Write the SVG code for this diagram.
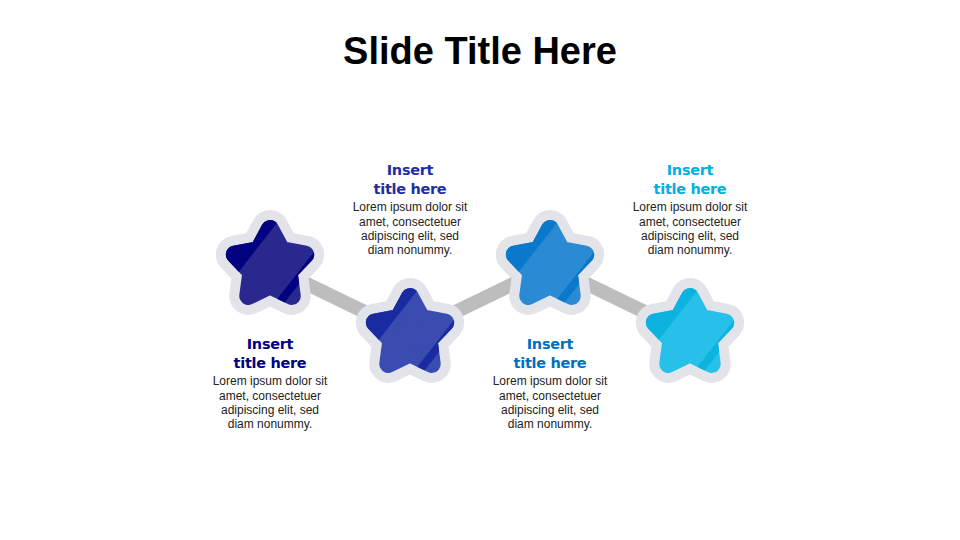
<svg xmlns="http://www.w3.org/2000/svg" xmlns:xlink="http://www.w3.org/1999/xlink" width="960" height="540" viewBox="0 0 960 540">
<style>
.halo{fill:#e3e4e9;stroke:#e3e4e9;stroke-width:38;stroke-linejoin:round}
.body{stroke-width:18;stroke-linejoin:round}
.ttl{font-family:"DejaVu Sans",Verdana,sans-serif;font-weight:bold;font-size:14.5px;text-anchor:middle;letter-spacing:-0.3px}
.txt{font-family:"Liberation Sans",Arial,sans-serif;font-size:12px;fill:#222;text-anchor:middle}
.conn{stroke:#bdbdbd;stroke-width:14;stroke-linecap:butt}
</style>
<defs>
<polygon id="sp" points="0,-37 11.46,-15.78 35.19,-11.43 18.55,6.03 21.75,29.93 0,19.5 -21.75,29.93 -18.55,6.03 -35.19,-11.43 -11.46,-15.78"/>
<mask id="sm" maskUnits="userSpaceOnUse" x="-70" y="-70" width="140" height="140">
<use xlink:href="#sp" fill="#fff" stroke="#fff" stroke-width="18" stroke-linejoin="round"/>
</mask>
<g id="stripes"><g transform="rotate(38)"><rect x="-90" y="-90" width="69" height="180"/><rect x="26" y="-90" width="8" height="180"/></g></g>
</defs>
<rect width="960" height="540" fill="#fff"/>
<text x="480" y="64" font-family="Liberation Sans,Arial,sans-serif" font-weight="bold" font-size="38" text-anchor="middle" fill="#000">Slide Title Here</text>
<g id="connectors">
<line class="conn" x1="270" y1="266" x2="410" y2="334"/>
<line class="conn" x1="410" y1="334" x2="550" y2="266"/>
<line class="conn" x1="550" y1="266" x2="690" y2="334"/>
</g>
<g id="star1" transform="translate(270,266)">
<use xlink:href="#sp" class="halo"/>
<use xlink:href="#sp" class="body" fill="#28288f" stroke="#28288f"/>
<g mask="url(#sm)"><use xlink:href="#stripes" fill="#020281"/></g>
</g>
<g id="star2" transform="translate(410,334)">
<use xlink:href="#sp" class="halo"/>
<use xlink:href="#sp" class="body" fill="#3a4cb0" stroke="#3a4cb0"/>
<g mask="url(#sm)"><use xlink:href="#stripes" fill="#1a2ba1"/></g>
</g>
<g id="star3" transform="translate(550,266)">
<use xlink:href="#sp" class="halo"/>
<use xlink:href="#sp" class="body" fill="#2a8bd4" stroke="#2a8bd4"/>
<g mask="url(#sm)"><use xlink:href="#stripes" fill="#0a78cb"/></g>
</g>
<g id="star4" transform="translate(690,334)">
<use xlink:href="#sp" class="halo"/>
<use xlink:href="#sp" class="body" fill="#27c0e8" stroke="#27c0e8"/>
<g mask="url(#sm)"><use xlink:href="#stripes" fill="#0cb3df"/></g>
</g>
<g id="text1">
<text class="ttl" x="270" y="349" fill="#000080">Insert</text>
<text class="ttl" x="270" y="368" fill="#000080">title here</text>
<text class="txt" x="270" y="385">Lorem ipsum dolor sit</text>
<text class="txt" x="270" y="400">amet, consectetuer</text>
<text class="txt" x="270" y="414">adipiscing elit, sed</text>
<text class="txt" x="270" y="428">diam nonummy.</text>
</g>
<g id="text2">
<text class="ttl" x="410" y="175" fill="#1f2fa3">Insert</text>
<text class="ttl" x="410" y="194" fill="#1f2fa3">title here</text>
<text class="txt" x="410" y="211">Lorem ipsum dolor sit</text>
<text class="txt" x="410" y="226">amet, consectetuer</text>
<text class="txt" x="410" y="240">adipiscing elit, sed</text>
<text class="txt" x="410" y="254">diam nonummy.</text>
</g>
<g id="text3">
<text class="ttl" x="550" y="349" fill="#0070c0">Insert</text>
<text class="ttl" x="550" y="368" fill="#0070c0">title here</text>
<text class="txt" x="550" y="385">Lorem ipsum dolor sit</text>
<text class="txt" x="550" y="400">amet, consectetuer</text>
<text class="txt" x="550" y="414">adipiscing elit, sed</text>
<text class="txt" x="550" y="428">diam nonummy.</text>
</g>
<g id="text4">
<text class="ttl" x="690" y="175" fill="#00b0e0">Insert</text>
<text class="ttl" x="690" y="194" fill="#00b0e0">title here</text>
<text class="txt" x="690" y="211">Lorem ipsum dolor sit</text>
<text class="txt" x="690" y="226">amet, consectetuer</text>
<text class="txt" x="690" y="240">adipiscing elit, sed</text>
<text class="txt" x="690" y="254">diam nonummy.</text>
</g>
</svg>
